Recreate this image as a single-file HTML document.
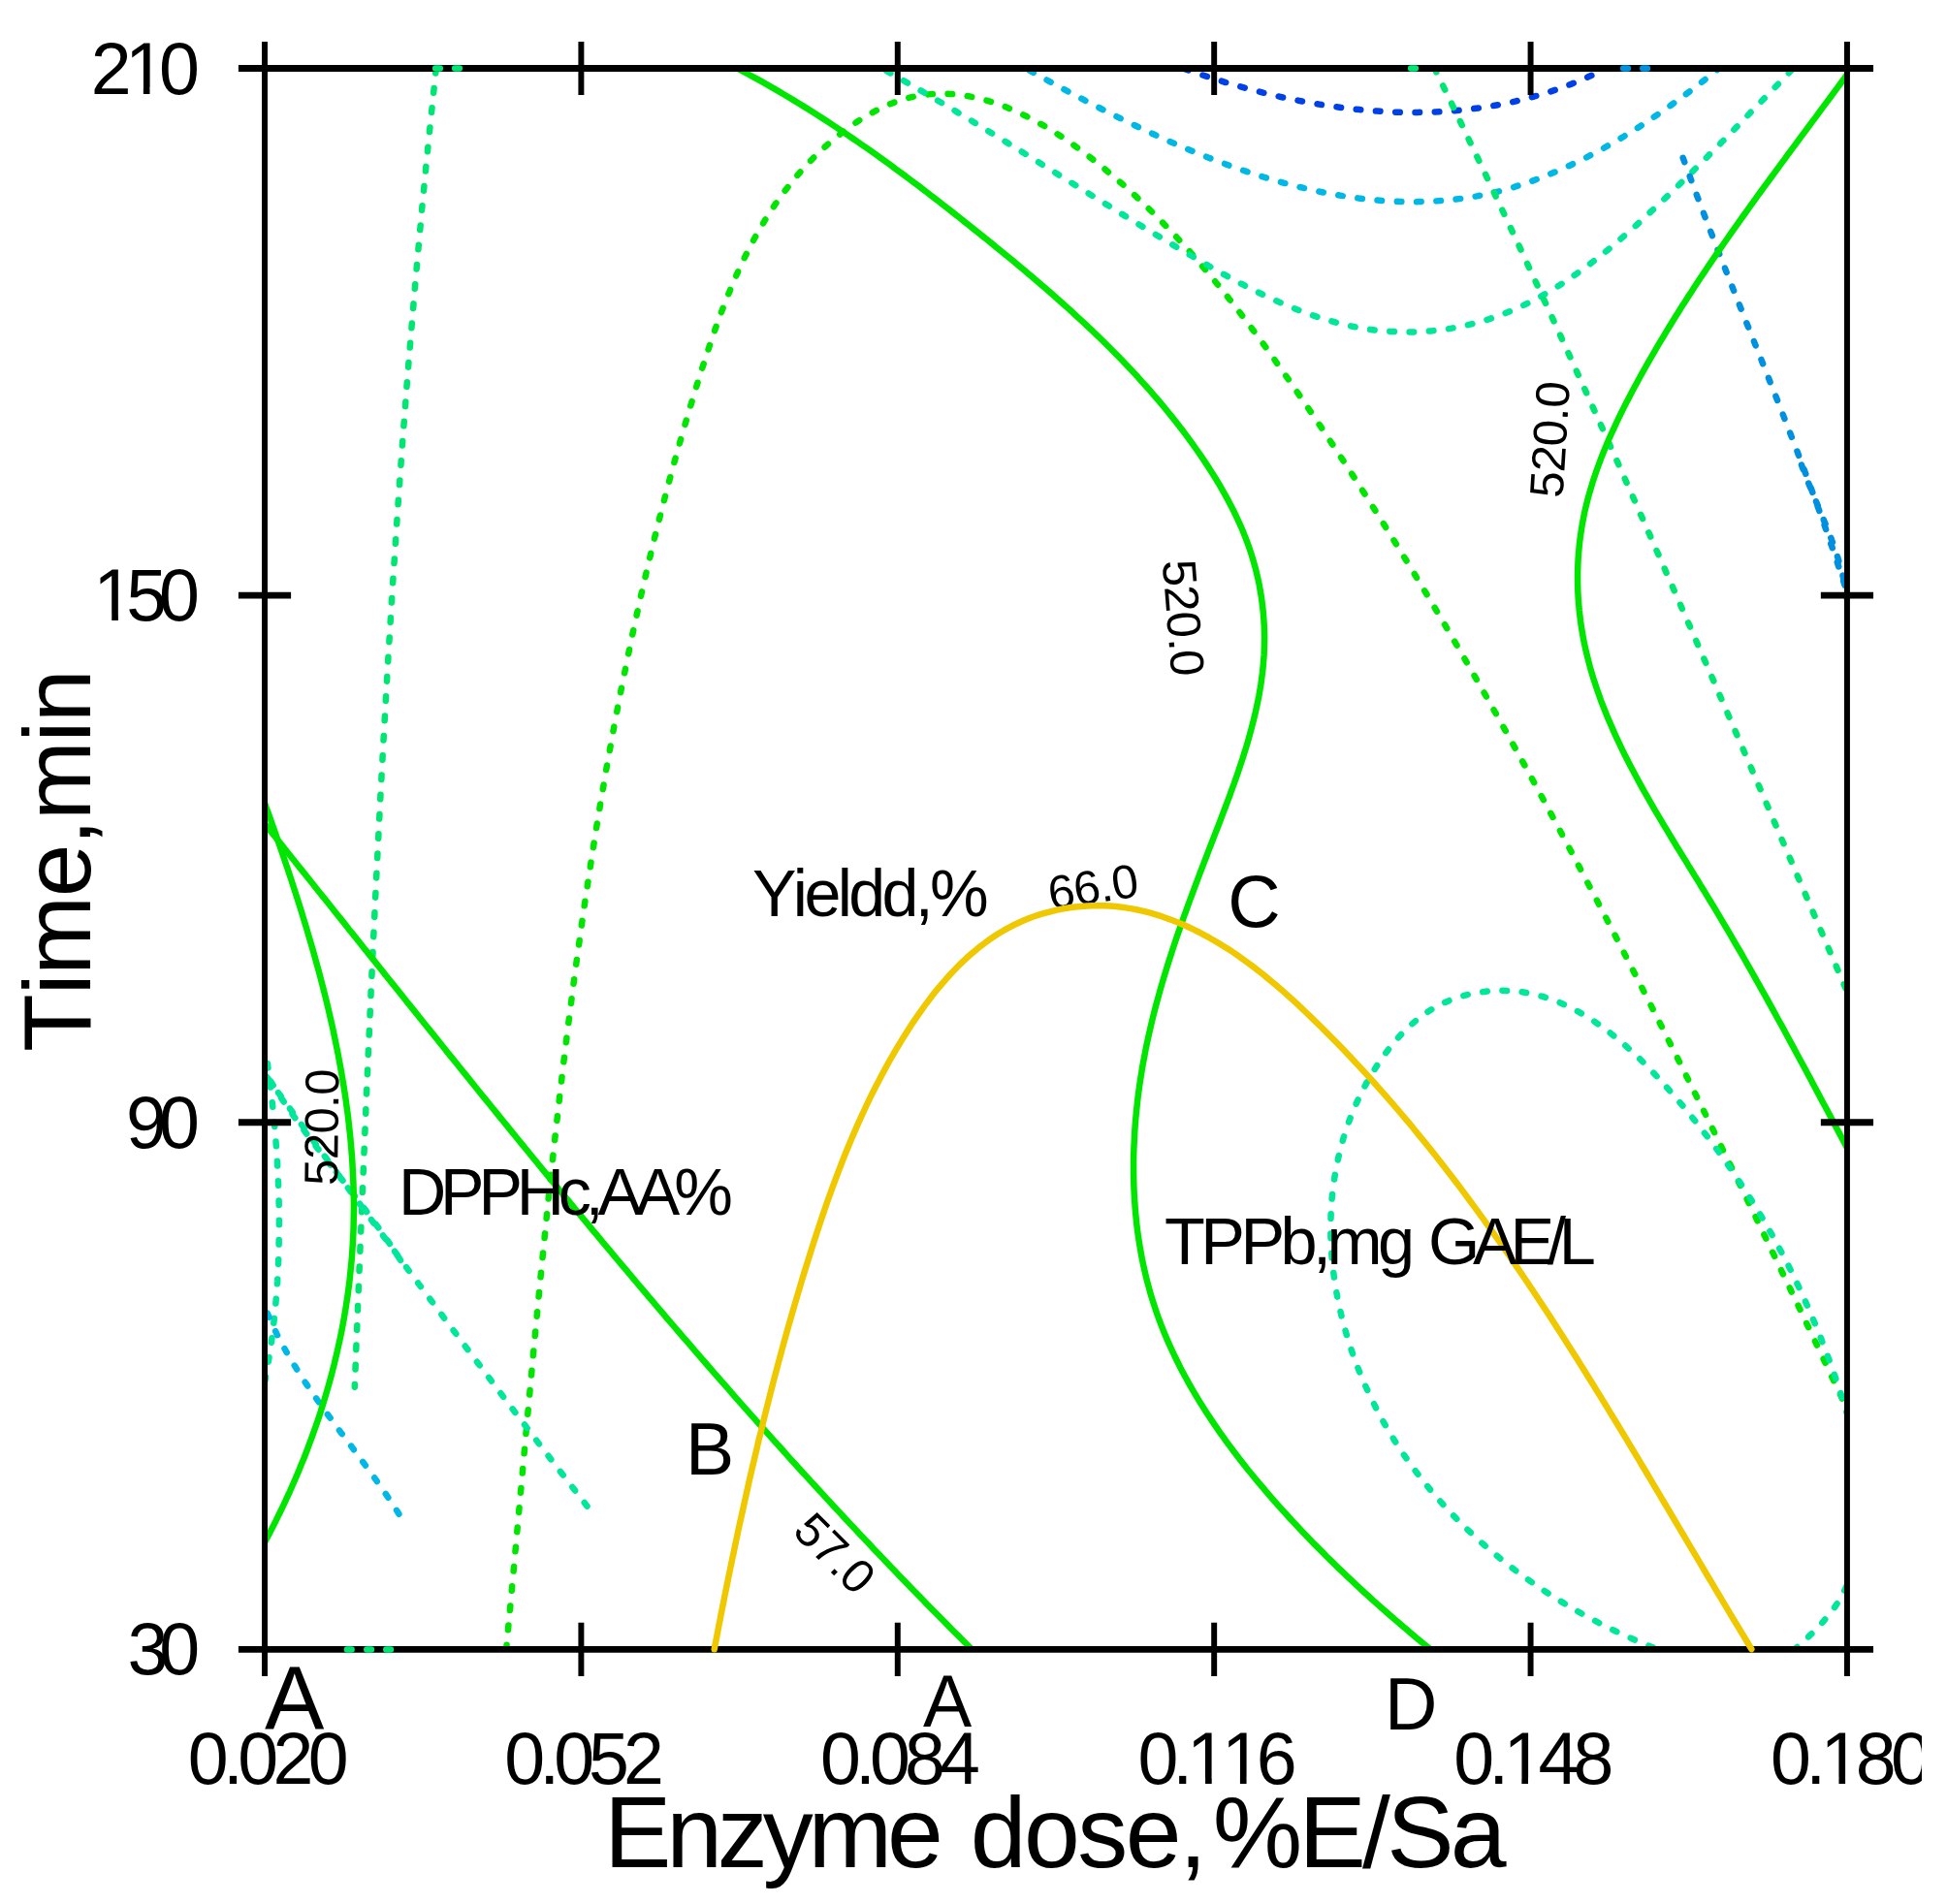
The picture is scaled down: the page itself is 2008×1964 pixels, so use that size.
<!DOCTYPE html>
<html><head><meta charset="utf-8"><title>Contour plot</title>
<style>
html,body{margin:0;padding:0;background:#fff;}
svg{display:block;}
text{font-family:"Liberation Sans",Arial,Helvetica,sans-serif;fill:#000;font-kerning:none;}
.c{fill:none;stroke-width:6.5;stroke-linejoin:round;}
.d{fill:none;stroke-width:6.5;stroke-linejoin:round;stroke-linecap:round;stroke-dasharray:4.6 15.7;}
.ax{stroke:#000;stroke-width:6.6;stroke-linecap:round;fill:none;}
</style></head><body>
<svg width="2008" height="1964" viewBox="0 0 2008 1964">
<rect x="0" y="0" width="2008" height="1964" fill="#fff"/>
<defs>
<clipPath id="plot"><rect x="273.0" y="70.44" width="1631.96" height="1630.96"/></clipPath>
<clipPath id="plot2"><rect x="273.0" y="70.44" width="1631.96" height="1634.56"/></clipPath>
<clipPath id="page"><rect x="0" y="0" width="1982" height="1964"/></clipPath>
</defs>

<g clip-path="url(#plot)">
<path class="d" stroke="#00E672"  d="M449.8,70.9 L449.1,76.9 L448.5,82.8 L447.9,88.8 L447.2,94.8 L446.6,100.8 L446.0,106.7 L445.4,112.7 L444.7,118.7 L444.1,124.6 L443.5,130.6 L442.9,136.6 L442.3,142.6 L441.7,148.5 L441.1,154.5 L440.5,160.5 L439.9,166.4 L439.3,172.4 L438.8,178.4 L438.2,184.4 L437.6,190.3 L437.0,196.3 L436.5,202.3 L435.9,208.3 L435.3,214.2 L434.8,220.2 L434.2,226.2 L433.7,232.2 L433.1,238.2 L432.6,244.1 L432.0,250.1 L431.5,256.1 L431.0,262.1 L430.4,268.0 L429.9,274.0 L429.4,280.0 L428.8,286.0 L428.3,292.0 L427.8,297.9 L427.3,303.9 L426.8,309.9 L426.3,315.9 L425.8,321.9 L425.3,327.9 L424.8,333.8 L424.3,339.8 L423.8,345.8 L423.3,351.8 L422.8,357.8 L422.3,363.7 L421.8,369.7 L421.3,375.7 L420.9,381.7 L420.4,387.7 L419.9,393.7 L419.4,399.7 L419.0,405.6 L418.5,411.6 L418.1,417.6 L417.6,423.6 L417.1,429.6 L416.7,435.6 L416.2,441.5 L415.8,447.5 L415.3,453.5 L414.9,459.5 L414.5,465.5 L414.0,471.5 L413.6,477.5 L413.2,483.5 L412.7,489.4 L412.3,495.4 L411.9,501.4 L411.5,507.4 L411.0,513.4 L410.6,519.4 L410.2,525.4 L409.8,531.4 L409.4,537.3 L409.0,543.3 L408.6,549.3 L408.2,555.3 L407.8,561.3 L407.4,567.3 L407.0,573.3 L406.6,579.3 L406.2,585.3 L405.8,591.3 L405.4,597.2 L405.0,603.2 L404.7,609.2 L404.3,615.2 L403.9,621.2 L403.5,627.2 L403.1,633.2 L402.8,639.2 L402.4,645.2 L402.0,651.2 L401.7,657.2 L401.3,663.1 L401.0,669.1 L400.6,675.1 L400.2,681.1 L399.9,687.1 L399.5,693.1 L399.2,699.1 L398.8,705.1 L398.5,711.1 L398.1,717.1 L397.8,723.1 L397.5,729.1 L397.1,735.1 L396.8,741.0 L396.4,747.0 L396.1,753.0 L395.8,759.0 L395.4,765.0 L395.1,771.0 L394.8,777.0 L394.5,783.0 L394.1,789.0 L393.8,795.0 L393.5,801.0 L393.2,807.0 L392.9,813.0 L392.5,819.0 L392.2,825.0 L391.9,831.0 L391.6,837.0 L391.3,842.9 L391.0,848.9 L390.7,854.9 L390.4,860.9 L390.1,866.9 L389.8,872.9 L389.5,878.9 L389.2,884.9 L388.9,890.9 L388.6,896.9 L388.3,902.9 L388.0,908.9 L387.7,914.9 L387.4,920.9 L387.1,926.9 L386.8,932.9 L386.5,938.9 L386.3,944.9 L386.0,950.9 L385.7,956.9 L385.4,962.9 L385.1,968.9 L384.8,974.8 L384.6,980.8 L384.3,986.8 L384.0,992.8 L383.7,998.8 L383.5,1004.8 L383.2,1010.8 L382.9,1016.8 L382.6,1022.8 L382.4,1028.8 L382.1,1034.8 L381.8,1040.8 L381.6,1046.8 L381.3,1052.8 L381.0,1058.8 L380.8,1064.8 L380.5,1070.8 L380.3,1076.8 L380.0,1082.8 L379.7,1088.8 L379.5,1094.8 L379.2,1100.8 L379.0,1106.8 L378.7,1112.8 L378.4,1118.8 L378.2,1124.8 L377.9,1130.8 L377.7,1136.8 L377.4,1142.8 L377.2,1148.8 L376.9,1154.8 L376.7,1160.8 L376.4,1166.7 L376.2,1172.7 L375.9,1178.7 L375.7,1184.7 L375.4,1190.7 L375.2,1196.7 L374.9,1202.7 L374.7,1208.7 L374.4,1214.7 L374.2,1220.7 L373.9,1226.7 L373.7,1232.7 L373.5,1238.7 L373.2,1244.7 L373.0,1250.7 L372.7,1256.7 L372.5,1262.7 L372.2,1268.7 L372.0,1274.7 L371.8,1280.7 L371.5,1286.7 L371.3,1292.7 L371.0,1298.7 L370.8,1304.7 L370.5,1310.7 L370.3,1316.7 L370.1,1322.7 L369.8,1328.7 L369.6,1334.7 L369.3,1340.7 L369.1,1346.7 L368.9,1352.7 L368.6,1358.7 L368.4,1364.7 L368.2,1370.7 L367.9,1376.7 L367.7,1382.7 L367.4,1388.7 L367.2,1394.7 L367.0,1400.7 L366.7,1406.7 L366.5,1412.7 L366.2,1418.7 L366.0,1424.7 L365.8,1430.7"/>
<path class="d" stroke="#00E600"  d="M522.1,1701.4 L522.7,1695.4 L523.2,1689.4 L523.8,1683.5 L524.3,1677.5 L524.9,1671.5 L525.5,1665.5 L526.0,1659.5 L526.6,1653.5 L527.1,1647.6 L527.7,1641.6 L528.2,1635.6 L528.8,1629.6 L529.3,1623.6 L529.9,1617.7 L530.4,1611.7 L531.0,1605.7 L531.5,1599.7 L532.1,1593.7 L532.6,1587.8 L533.1,1581.8 L533.7,1575.8 L534.2,1569.8 L534.8,1563.8 L535.3,1557.8 L535.9,1551.9 L536.4,1545.9 L536.9,1539.9 L537.5,1533.9 L538.0,1527.9 L538.6,1522.0 L539.1,1516.0 L539.6,1510.0 L540.2,1504.0 L540.7,1498.0 L541.3,1492.0 L541.8,1486.1 L542.3,1480.1 L542.9,1474.1 L543.4,1468.1 L544.0,1462.1 L544.5,1456.2 L545.1,1450.2 L545.6,1444.2 L546.2,1438.2 L546.7,1432.2 L547.3,1426.2 L547.8,1420.3 L548.4,1414.3 L548.9,1408.3 L549.5,1402.3 L550.0,1396.3 L550.6,1390.4 L551.2,1384.4 L551.7,1378.4 L552.3,1372.4 L552.8,1366.4 L553.4,1360.5 L554.0,1354.5 L554.6,1348.5 L555.1,1342.5 L555.7,1336.5 L556.3,1330.6 L556.9,1324.6 L557.4,1318.6 L558.0,1312.6 L558.6,1306.7 L559.2,1300.7 L559.8,1294.7 L560.4,1288.7 L561.0,1282.7 L561.6,1276.8 L562.2,1270.8 L562.8,1264.8 L563.4,1258.8 L564.0,1252.9 L564.6,1246.9 L565.2,1240.9 L565.8,1234.9 L566.5,1229.0 L567.1,1223.0 L567.7,1217.0 L568.4,1211.1 L569.0,1205.1 L569.6,1199.1 L570.3,1193.1 L570.9,1187.2 L571.6,1181.2 L572.2,1175.2 L572.9,1169.3 L573.6,1163.3 L574.2,1157.3 L574.9,1151.3 L575.6,1145.4 L576.3,1139.4 L576.9,1133.4 L577.6,1127.5 L578.3,1121.5 L579.0,1115.5 L579.7,1109.6 L580.4,1103.6 L581.1,1097.7 L581.8,1091.7 L582.6,1085.7 L583.3,1079.8 L584.0,1073.8 L584.8,1067.8 L585.5,1061.9 L586.2,1055.9 L587.0,1050.0 L587.8,1044.0 L588.5,1038.0 L589.3,1032.1 L590.1,1026.1 L590.8,1020.2 L591.6,1014.2 L592.4,1008.3 L593.2,1002.3 L594.0,996.4 L594.8,990.4 L595.6,984.5 L596.4,978.5 L597.3,972.6 L598.1,966.6 L598.9,960.7 L599.8,954.7 L600.6,948.8 L601.5,942.8 L602.3,936.9 L603.2,930.9 L604.1,925.0 L605.0,919.1 L605.9,913.1 L606.8,907.2 L607.7,901.2 L608.6,895.3 L609.5,889.4 L610.4,883.4 L611.3,877.5 L612.3,871.6 L613.2,865.6 L614.2,859.7 L615.1,853.8 L616.1,847.8 L617.1,841.9 L618.1,836.0 L619.0,830.1 L620.0,824.1 L621.0,818.2 L622.1,812.3 L623.1,806.4 L624.1,800.5 L625.1,794.5 L626.2,788.6 L627.2,782.7 L628.3,776.8 L629.4,770.9 L630.5,765.0 L631.5,759.1 L632.6,753.2 L633.7,747.3 L634.9,741.4 L636.0,735.5 L637.1,729.6 L638.2,723.7 L639.4,717.8 L640.5,711.9 L641.7,706.0 L642.9,700.1 L644.1,694.2 L645.3,688.3 L646.5,682.4 L647.7,676.6 L648.9,670.7 L650.1,664.8 L651.4,658.9 L652.6,653.0 L653.9,647.2 L655.1,641.3 L656.4,635.4 L657.7,629.6 L659.0,623.7 L660.3,617.8 L661.6,612.0 L663.0,606.1 L664.3,600.3 L665.7,594.4 L667.0,588.6 L668.4,582.7 L669.8,576.9 L671.2,571.0 L672.6,565.2 L674.0,559.4 L675.4,553.5 L676.9,547.7 L678.3,541.9 L679.8,536.0 L681.3,530.2 L682.8,524.4 L684.3,518.6 L685.8,512.8 L687.3,507.0 L688.9,501.2 L690.4,495.4 L692.0,489.6 L693.5,483.8 L695.1,478.0 L696.7,472.2 L698.3,466.4 L700.0,460.6 L701.6,454.8 L703.3,449.1 L704.9,443.3 L706.6,437.5 L708.3,431.8 L710.0,426.0 L711.7,420.2 L713.5,414.5 L715.2,408.7 L717.0,403.0 L718.7,397.3 L720.5,391.5 L722.3,385.8 L724.1,380.1 L726.0,374.4 L727.8,368.6 L729.7,362.9 L731.6,357.2 L733.5,351.5 L735.4,345.9 L737.4,340.2 L739.4,334.5 L741.5,328.9 L743.5,323.2 L745.7,317.6 L747.8,312.0 L750.0,306.4 L752.3,300.9 L754.6,295.3 L756.9,289.8 L759.3,284.3 L761.8,278.8 L764.3,273.3 L766.8,267.9 L769.5,262.5 L772.2,257.1 L774.9,251.8 L777.8,246.5 L780.7,241.3 L783.7,236.0 L786.7,230.9 L789.8,225.7 L793.0,220.6 L796.3,215.6 L799.6,210.6 L803.1,205.7 L806.6,200.8 L810.2,196.0 L813.9,191.3 L817.6,186.6 L821.5,182.0 L825.4,177.4 L829.4,172.9 L833.5,168.5 L837.6,164.2 L841.9,159.9 L846.2,155.8 L850.6,151.7 L855.1,147.7 L859.6,143.8 L864.3,140.0 L869.0,136.3 L873.8,132.6 L878.7,129.1 L883.7,125.8 L888.7,122.5 L893.8,119.4 L899.1,116.4 L904.4,113.6 L909.8,111.0 L915.2,108.5 L920.8,106.2 L926.4,104.2 L932.2,102.3 L937.9,100.7 L943.8,99.4 L949.7,98.3 L955.7,97.5 L961.6,97.0 L967.6,96.7 L973.6,96.7 L979.7,96.9 L985.6,97.4 L991.6,98.1 L997.5,99.0 L1003.4,100.1 L1009.3,101.4 L1015.1,102.9 L1020.9,104.6 L1026.6,106.4 L1032.3,108.4 L1037.9,110.6 L1043.4,112.9 L1048.9,115.3 L1054.4,117.9 L1059.7,120.5 L1065.1,123.3 L1070.3,126.2 L1075.6,129.1 L1080.7,132.2 L1085.9,135.3 L1090.9,138.5 L1096.0,141.8 L1100.9,145.2 L1105.9,148.6 L1110.7,152.1 L1115.6,155.7 L1120.4,159.3 L1125.1,162.9 L1129.9,166.7 L1134.6,170.4 L1139.2,174.2 L1143.8,178.1 L1148.4,182.0 L1152.9,185.9 L1157.5,189.8 L1161.9,193.8 L1166.4,197.9 L1170.8,201.9 L1175.2,206.1 L1179.5,210.2 L1183.9,214.4 L1188.2,218.6 L1192.4,222.8 L1196.6,227.1 L1200.8,231.4 L1205.0,235.7 L1209.1,240.0 L1213.2,244.4 L1217.3,248.8 L1221.4,253.3 L1225.4,257.7 L1229.4,262.2 L1233.3,266.7 L1237.3,271.3 L1241.2,275.9 L1245.0,280.4 L1248.9,285.0 L1252.7,289.7 L1256.5,294.3 L1260.3,299.0 L1264.1,303.7 L1267.8,308.4 L1271.5,313.1 L1275.2,317.9 L1278.8,322.6 L1282.5,327.4 L1286.1,332.2 L1289.7,337.0 L1293.3,341.8 L1296.9,346.6 L1300.4,351.5 L1304.0,356.3 L1307.5,361.2 L1311.0,366.1 L1314.5,371.0 L1317.9,375.9 L1321.4,380.8 L1324.8,385.7 L1328.3,390.6 L1331.7,395.6 L1335.1,400.5 L1338.5,405.4 L1341.9,410.4 L1345.3,415.4 L1348.7,420.3 L1352.1,425.3 L1355.4,430.3 L1358.8,435.2 L1362.2,440.2 L1365.5,445.2 L1368.8,450.2 L1372.1,455.2 L1375.5,460.2 L1378.8,465.2 L1382.1,470.3 L1385.4,475.3 L1388.6,480.3 L1391.9,485.4 L1395.2,490.4 L1398.4,495.4 L1401.7,500.5 L1404.9,505.6 L1408.2,510.6 L1411.4,515.7 L1414.6,520.8 L1417.8,525.8 L1421.0,530.9 L1424.2,536.0 L1427.4,541.1 L1430.6,546.2 L1433.8,551.3 L1436.9,556.4 L1440.1,561.5 L1443.2,566.6 L1446.4,571.7 L1449.5,576.8 L1452.7,582.0 L1455.8,587.1 L1458.9,592.2 L1462.0,597.4 L1465.1,602.5 L1468.2,607.7 L1471.3,612.8 L1474.4,618.0 L1477.5,623.1 L1480.5,628.3 L1483.6,633.4 L1486.7,638.6 L1489.7,643.8 L1492.7,649.0 L1495.8,654.2 L1498.8,659.3 L1501.8,664.5 L1504.9,669.7 L1507.9,674.9 L1510.9,680.1 L1513.9,685.3 L1516.9,690.5 L1519.9,695.7 L1522.8,700.9 L1525.8,706.2 L1528.8,711.4 L1531.8,716.6 L1534.7,721.8 L1537.7,727.1 L1540.6,732.3 L1543.6,737.5 L1546.5,742.8 L1549.4,748.0 L1552.4,753.3 L1555.3,758.5 L1558.2,763.7 L1561.1,769.0 L1564.0,774.3 L1566.9,779.5 L1569.8,784.8 L1572.7,790.0 L1575.6,795.3 L1578.5,800.6 L1581.4,805.8 L1584.3,811.1 L1587.1,816.4 L1590.0,821.7 L1592.8,827.0 L1595.7,832.2 L1598.5,837.5 L1601.4,842.8 L1604.2,848.1 L1607.1,853.4 L1609.9,858.7 L1612.7,864.0 L1615.6,869.3 L1618.4,874.6 L1621.2,879.9 L1624.0,885.2 L1626.8,890.5 L1629.6,895.8 L1632.4,901.1 L1635.2,906.5 L1638.0,911.8 L1640.8,917.1 L1643.6,922.4 L1646.4,927.7 L1649.2,933.1 L1651.9,938.4 L1654.7,943.7 L1657.5,949.0 L1660.3,954.4 L1663.0,959.7 L1665.8,965.0 L1668.5,970.4 L1671.3,975.7 L1674.0,981.1 L1676.8,986.4 L1679.5,991.7 L1682.3,997.1 L1685.0,1002.4 L1687.7,1007.8 L1690.5,1013.1 L1693.2,1018.5 L1695.9,1023.8 L1698.7,1029.2 L1701.4,1034.5 L1704.1,1039.9 L1706.8,1045.3 L1709.5,1050.6 L1712.2,1056.0 L1714.9,1061.3 L1717.6,1066.7 L1720.3,1072.1 L1723.0,1077.4 L1725.7,1082.8 L1728.4,1088.2 L1731.1,1093.5 L1733.8,1098.9 L1736.5,1104.3 L1739.1,1109.7 L1741.8,1115.0 L1744.5,1120.4 L1747.2,1125.8 L1749.8,1131.2 L1752.5,1136.6 L1755.2,1141.9 L1757.8,1147.3 L1760.5,1152.7 L1763.2,1158.1 L1765.8,1163.5 L1768.5,1168.9 L1771.1,1174.3 L1773.8,1179.7 L1776.4,1185.1 L1779.0,1190.4 L1781.7,1195.8 L1784.3,1201.2 L1787.0,1206.6 L1789.6,1212.0 L1792.2,1217.4 L1794.9,1222.8 L1797.5,1228.2 L1800.1,1233.6 L1802.7,1239.0 L1805.3,1244.4 L1808.0,1249.8 L1810.6,1255.3 L1813.2,1260.7 L1815.8,1266.1 L1818.4,1271.5 L1821.0,1276.9 L1823.6,1282.3 L1826.2,1287.7 L1828.8,1293.1 L1831.4,1298.5 L1834.0,1304.0 L1836.6,1309.4 L1839.2,1314.8 L1841.8,1320.2 L1844.4,1325.6 L1847.0,1331.0 L1849.6,1336.5 L1852.2,1341.9 L1854.8,1347.3 L1857.4,1352.7 L1859.9,1358.2 L1862.5,1363.6 L1865.1,1369.0 L1867.7,1374.4 L1870.2,1379.9 L1872.8,1385.3 L1875.4,1390.7 L1878.0,1396.1 L1880.5,1401.6 L1883.1,1407.0 L1885.7,1412.4 L1888.2,1417.9 L1890.8,1423.3 L1893.4,1428.7 L1895.9,1434.2 L1898.5,1439.6 L1901.0,1445.0 L1903.6,1450.5"/>
<path class="d" stroke="#00E69A"  d="M914.4,73.2 L919.6,76.1 L924.9,79.1 L930.1,82.1 L935.3,85.1 L940.5,88.1 L945.7,91.1 L950.9,94.1 L956.1,97.2 L961.2,100.2 L966.4,103.3 L971.6,106.3 L976.7,109.4 L981.9,112.5 L987.1,115.6 L992.2,118.7 L997.3,121.8 L1002.5,124.9 L1007.6,128.1 L1012.7,131.2 L1017.9,134.3 L1023.0,137.5 L1028.1,140.6 L1033.2,143.8 L1038.3,146.9 L1043.4,150.1 L1048.5,153.3 L1053.7,156.5 L1058.8,159.6 L1063.9,162.8 L1069.0,166.0 L1074.1,169.2 L1079.2,172.3 L1084.3,175.5 L1089.3,178.7 L1094.4,181.9 L1099.5,185.1 L1104.6,188.3 L1109.7,191.4 L1114.8,194.6 L1119.9,197.8 L1125.0,201.0 L1130.2,204.1 L1135.3,207.3 L1140.4,210.5 L1145.5,213.6 L1150.6,216.8 L1155.7,220.0 L1160.8,223.1 L1166.0,226.2 L1171.1,229.4 L1176.2,232.5 L1181.4,235.6 L1186.5,238.7 L1191.6,241.8 L1196.8,244.9 L1201.9,248.0 L1207.1,251.1 L1212.3,254.2 L1217.4,257.2 L1222.6,260.3 L1227.8,263.3 L1233.0,266.4 L1238.2,269.4 L1243.4,272.4 L1248.6,275.4 L1253.8,278.3 L1259.1,281.3 L1264.4,284.2 L1269.6,287.0 L1274.9,289.9 L1280.2,292.7 L1285.6,295.5 L1290.9,298.2 L1296.3,300.9 L1301.7,303.5 L1307.1,306.1 L1312.6,308.6 L1318.1,311.1 L1323.6,313.5 L1329.1,315.8 L1334.7,318.1 L1340.3,320.3 L1345.9,322.4 L1351.5,324.5 L1357.2,326.4 L1362.9,328.3 L1368.7,330.0 L1374.5,331.7 L1380.3,333.3 L1386.1,334.7 L1392.0,336.1 L1397.8,337.3 L1403.7,338.4 L1409.7,339.4 L1415.6,340.2 L1421.6,340.9 L1427.6,341.5 L1433.6,341.9 L1439.6,342.2 L1445.6,342.4 L1451.6,342.5 L1457.6,342.4 L1463.6,342.2 L1469.6,341.8 L1475.6,341.4 L1481.6,340.8 L1487.5,340.0 L1493.5,339.2 L1499.4,338.2 L1505.3,337.1 L1511.2,335.8 L1517.1,334.4 L1522.9,332.9 L1528.7,331.3 L1534.4,329.6 L1540.1,327.7 L1545.8,325.7 L1551.4,323.6 L1557.0,321.3 L1562.5,319.0 L1568.0,316.5 L1573.4,313.9 L1578.8,311.2 L1584.1,308.4 L1589.4,305.6 L1594.6,302.6 L1599.8,299.5 L1604.9,296.4 L1610.0,293.2 L1615.0,289.9 L1620.0,286.5 L1625.0,283.1 L1629.8,279.6 L1634.7,276.1 L1639.5,272.5 L1644.3,268.8 L1649.0,265.1 L1653.7,261.4 L1658.4,257.6 L1663.0,253.7 L1667.6,249.8 L1672.1,245.9 L1676.7,242.0 L1681.2,238.0 L1685.7,234.0 L1690.1,230.0 L1694.5,225.9 L1698.9,221.8 L1703.3,217.7 L1707.7,213.6 L1712.1,209.5 L1716.4,205.3 L1720.8,201.2 L1725.1,197.0 L1729.4,192.8 L1733.7,188.6 L1738.0,184.4 L1742.3,180.2 L1746.5,175.9 L1750.8,171.7 L1755.0,167.4 L1759.3,163.2 L1763.5,158.9 L1767.7,154.6 L1772.0,150.4 L1776.2,146.1 L1780.4,141.8 L1784.6,137.5 L1788.8,133.2 L1793.0,128.9 L1797.2,124.6 L1801.4,120.3 L1805.5,115.9 L1809.7,111.6 L1813.9,107.3 L1818.1,103.0 L1822.2,98.7 L1826.4,94.3 L1830.6,90.0 L1834.8,85.7 L1839.0,81.4 L1843.1,77.1 L1847.3,72.7"/>
<path class="d" stroke="#00B8E6"  d="M1061.8,72.7 L1067.0,75.6 L1072.3,78.5 L1077.6,81.4 L1082.9,84.3 L1088.2,87.2 L1093.5,90.1 L1098.8,92.9 L1104.2,95.7 L1109.5,98.6 L1114.8,101.4 L1120.2,104.2 L1125.5,107.0 L1130.9,109.7 L1136.3,112.5 L1141.6,115.2 L1147.0,117.9 L1152.4,120.6 L1157.8,123.3 L1163.2,125.9 L1168.7,128.5 L1174.1,131.1 L1179.6,133.7 L1185.0,136.3 L1190.5,138.8 L1196.0,141.3 L1201.5,143.8 L1207.0,146.2 L1212.5,148.6 L1218.1,151.0 L1223.6,153.4 L1229.2,155.7 L1234.8,158.0 L1240.4,160.2 L1246.0,162.5 L1251.6,164.6 L1257.2,166.8 L1262.9,168.9 L1268.5,171.0 L1274.2,173.0 L1279.9,175.0 L1285.6,176.9 L1291.3,178.8 L1297.1,180.7 L1302.8,182.5 L1308.6,184.3 L1314.4,186.0 L1320.2,187.6 L1326.0,189.2 L1331.8,190.8 L1337.7,192.3 L1343.5,193.7 L1349.4,195.1 L1355.3,196.5 L1361.2,197.7 L1367.1,198.9 L1373.0,200.1 L1378.9,201.1 L1384.9,202.1 L1390.8,203.1 L1396.8,203.9 L1402.8,204.7 L1408.8,205.4 L1414.8,206.1 L1420.8,206.6 L1426.8,207.1 L1432.8,207.5 L1438.8,207.8 L1444.9,208.0 L1450.9,208.1 L1456.9,208.2 L1462.9,208.1 L1469.0,208.0 L1475.0,207.8 L1481.0,207.4 L1487.0,207.0 L1493.0,206.5 L1499.0,205.9 L1505.0,205.1 L1511.0,204.3 L1517.0,203.4 L1522.9,202.4 L1528.8,201.2 L1534.7,200.0 L1540.6,198.6 L1546.5,197.2 L1552.3,195.6 L1558.1,194.0 L1563.9,192.2 L1569.6,190.4 L1575.3,188.5 L1581.0,186.4 L1586.7,184.3 L1592.3,182.2 L1597.9,179.9 L1603.4,177.6 L1609.0,175.2 L1614.5,172.8 L1620.0,170.2 L1625.4,167.6 L1630.8,165.0 L1636.2,162.3 L1641.6,159.5 L1646.9,156.6 L1652.2,153.8 L1657.4,150.8 L1662.7,147.8 L1667.9,144.8 L1673.1,141.7 L1678.2,138.6 L1683.3,135.4 L1688.4,132.2 L1693.5,128.9 L1698.5,125.6 L1703.6,122.2 L1708.5,118.8 L1713.5,115.4 L1718.5,112.0 L1723.4,108.5 L1728.3,104.9 L1733.1,101.4 L1738.0,97.8 L1742.8,94.1 L1747.6,90.5 L1752.3,86.8 L1757.1,83.1 L1761.8,79.3 L1766.5,75.6 L1771.2,71.8"/>
<path class="d" stroke="#0040E8"  d="M1221.3,70.9 L1227.0,72.9 L1232.6,74.9 L1238.3,76.8 L1244.0,78.7 L1249.8,80.5 L1255.5,82.3 L1261.2,84.1 L1267.0,85.9 L1272.7,87.5 L1278.5,89.2 L1284.3,90.8 L1290.1,92.4 L1295.9,93.9 L1301.7,95.4 L1307.6,96.8 L1313.4,98.2 L1319.3,99.6 L1325.1,100.9 L1331.0,102.1 L1336.9,103.3 L1342.8,104.5 L1348.7,105.6 L1354.6,106.6 L1360.5,107.6 L1366.5,108.6 L1372.4,109.5 L1378.4,110.3 L1384.3,111.1 L1390.3,111.9 L1396.3,112.5 L1402.2,113.1 L1408.2,113.7 L1414.2,114.2 L1420.2,114.6 L1426.2,115.0 L1432.2,115.3 L1438.2,115.6 L1444.2,115.8 L1450.2,115.9 L1456.2,115.9 L1462.2,115.9 L1468.2,115.8 L1474.2,115.7 L1480.2,115.5 L1486.2,115.2 L1492.2,114.8 L1498.2,114.4 L1504.2,113.8 L1510.2,113.2 L1516.2,112.6 L1522.1,111.8 L1528.1,111.0 L1534.0,110.1 L1539.9,109.1 L1545.9,108.0 L1551.7,106.9 L1557.6,105.7 L1563.5,104.3 L1569.3,102.9 L1575.2,101.5 L1581.0,99.9 L1586.7,98.3 L1592.5,96.5 L1598.2,94.7 L1603.9,92.8 L1609.6,90.8 L1615.2,88.7 L1620.8,86.6 L1626.4,84.3 L1631.9,82.0 L1637.4,79.6 L1642.9,77.1 L1648.3,74.5 L1653.7,71.8"/>
<path class="d" stroke="#00E672"  d="M1479.3,70.2 L1481.9,75.6 L1484.6,81.0 L1487.2,86.4 L1489.8,91.8 L1492.5,97.3 L1495.1,102.7 L1497.7,108.1 L1500.3,113.5 L1502.9,118.9 L1505.5,124.4 L1508.1,129.8 L1510.7,135.2 L1513.3,140.6 L1515.9,146.1 L1518.5,151.5 L1521.1,156.9 L1523.7,162.4 L1526.3,167.8 L1528.9,173.3 L1531.5,178.7 L1534.0,184.1 L1536.6,189.6 L1539.2,195.0 L1541.7,200.5 L1544.3,205.9 L1546.9,211.4 L1549.4,216.8 L1552.0,222.3 L1554.5,227.7 L1557.1,233.2 L1559.6,238.6 L1562.2,244.1 L1564.7,249.5 L1567.3,255.0 L1569.8,260.4 L1572.3,265.9 L1574.9,271.4 L1577.4,276.8 L1579.9,282.3 L1582.5,287.7 L1585.0,293.2 L1587.5,298.7 L1590.0,304.1 L1592.5,309.6 L1595.1,315.1 L1597.6,320.6 L1600.1,326.0 L1602.6,331.5 L1605.1,337.0 L1607.6,342.5 L1610.1,347.9 L1612.6,353.4 L1615.1,358.9 L1617.6,364.4 L1620.1,369.8 L1622.6,375.3 L1625.0,380.8 L1627.5,386.3 L1630.0,391.8 L1632.5,397.3 L1635.0,402.7 L1637.4,408.2 L1639.9,413.7 L1642.4,419.2 L1644.9,424.7 L1647.3,430.2 L1649.8,435.7 L1652.3,441.2 L1654.7,446.7 L1657.2,452.2 L1659.6,457.7 L1662.1,463.1 L1664.6,468.6 L1667.0,474.1 L1669.5,479.6 L1671.9,485.1 L1674.4,490.6 L1676.8,496.1 L1679.2,501.6 L1681.7,507.1 L1684.1,512.6 L1686.6,518.1 L1689.0,523.7 L1691.4,529.2 L1693.9,534.7 L1696.3,540.2 L1698.7,545.7 L1701.2,551.2 L1703.6,556.7 L1706.0,562.2 L1708.4,567.7 L1710.9,573.2 L1713.3,578.7 L1715.7,584.2 L1718.1,589.8 L1720.6,595.3 L1723.0,600.8 L1725.4,606.3 L1727.8,611.8 L1730.2,617.3 L1732.6,622.8 L1735.0,628.4 L1737.4,633.9 L1739.8,639.4 L1742.3,644.9 L1744.7,650.4 L1747.1,655.9 L1749.5,661.5 L1751.9,667.0 L1754.3,672.5 L1756.7,678.0 L1759.1,683.5 L1761.5,689.1 L1763.9,694.6 L1766.3,700.1 L1768.7,705.6 L1771.0,711.2 L1773.4,716.7 L1775.8,722.2 L1778.2,727.7 L1780.6,733.3 L1783.0,738.8 L1785.4,744.3 L1787.8,749.8 L1790.2,755.4 L1792.5,760.9 L1794.9,766.4 L1797.3,771.9 L1799.7,777.5 L1802.1,783.0 L1804.5,788.5 L1806.8,794.1 L1809.2,799.6 L1811.6,805.1 L1814.0,810.6 L1816.4,816.2 L1818.7,821.7 L1821.1,827.2 L1823.5,832.8 L1825.9,838.3 L1828.2,843.8 L1830.6,849.4 L1833.0,854.9 L1835.4,860.4 L1837.7,866.0 L1840.1,871.5 L1842.5,877.0 L1844.9,882.6 L1847.2,888.1 L1849.6,893.6 L1852.0,899.2 L1854.3,904.7 L1856.7,910.2 L1859.1,915.8 L1861.5,921.3 L1863.8,926.8 L1866.2,932.4 L1868.6,937.9 L1870.9,943.4 L1873.3,949.0 L1875.7,954.5 L1878.0,960.0 L1880.4,965.6 L1882.8,971.1 L1885.1,976.6 L1887.5,982.2 L1889.9,987.7 L1892.3,993.2 L1894.6,998.8 L1897.0,1004.3 L1899.4,1009.8 L1901.7,1015.4 L1904.1,1020.9"/>
<path class="d" stroke="#0090E0"  d="M1735.7,162.8 L1737.8,168.5 L1739.9,174.2 L1742.0,179.9 L1744.1,185.6 L1746.2,191.3 L1748.3,197.0 L1750.4,202.6 L1752.6,208.3 L1754.7,214.0 L1756.9,219.7 L1759.0,225.3 L1761.2,231.0 L1763.4,236.7 L1765.6,242.3 L1767.7,248.0 L1769.9,253.6 L1772.1,259.3 L1774.4,264.9 L1776.6,270.6 L1778.8,276.2 L1781.0,281.9 L1783.2,287.5 L1785.5,293.1 L1787.7,298.8 L1789.9,304.4 L1792.2,310.0 L1794.4,315.7 L1796.7,321.3 L1798.9,326.9 L1801.1,332.6 L1803.4,338.2 L1805.6,343.8 L1807.9,349.5 L1810.1,355.1 L1812.4,360.7 L1814.6,366.4 L1816.9,372.0 L1819.1,377.7 L1821.3,383.3 L1823.6,388.9 L1825.8,394.6 L1828.0,400.2 L1830.3,405.8 L1832.5,411.5 L1834.7,417.1 L1836.9,422.8 L1839.1,428.4 L1841.3,434.1 L1843.5,439.7 L1845.7,445.4 L1847.9,451.0 L1850.1,456.7 L1852.3,462.4 L1854.4,468.0 L1856.6,473.7 L1858.7,479.4 L1860.9,485.0 L1863.0,490.7 L1865.1,496.4 L1867.2,502.1 L1869.3,507.8 L1871.4,513.5 L1873.5,519.2 L1875.6,524.9 L1877.6,530.6 L1879.7,536.3 L1881.7,542.0 L1883.7,547.7 L1885.7,553.4 L1887.7,559.2 L1889.7,564.9 L1891.6,570.6 L1893.6,576.4 L1895.5,582.1 L1897.4,587.9 L1899.3,593.7 L1901.2,599.4 L1903.1,605.2 L1905.0,611.0 L1906.8,616.7 L1908.6,622.5"/>
<path class="d" stroke="#0090E0" stroke-dashoffset="10" d="M1854.6,469.9 L1856.5,475.5 L1858.5,481.2 L1860.6,486.8 L1862.8,492.4 L1865.0,498.0 L1867.3,503.6 L1869.6,509.1 L1871.9,514.7 L1874.2,520.2 L1876.5,525.8 L1878.8,531.3 L1881.1,536.9 L1883.4,542.4 L1885.6,548.0 L1887.8,553.6 L1889.9,559.3 L1891.9,564.9 L1893.8,570.6 L1895.7,576.3 L1897.4,582.1 L1899.0,587.9 L1900.5,593.7 L1901.9,599.5 L1903.1,605.4 L1904.1,611.4 L1904.9,617.3 L1905.5,623.3"/>
<path class="d" stroke="#00E69A"  d="M275.8,1096.9 L276.6,1102.9 L277.4,1108.9 L278.2,1115.0 L278.9,1121.1 L279.6,1127.1 L280.3,1133.2 L281.0,1139.2 L281.6,1145.3 L282.2,1151.4 L282.8,1157.5 L283.4,1163.5 L283.9,1169.6 L284.4,1175.7 L284.8,1181.8 L285.3,1187.9 L285.7,1194.0 L286.0,1200.1 L286.4,1206.1 L286.7,1212.2 L286.9,1218.3 L287.2,1224.4 L287.4,1230.5 L287.6,1236.6 L287.7,1242.7 L287.8,1248.8 L287.9,1254.9 L287.9,1261.0 L287.9,1267.1 L287.8,1273.2 L287.7,1279.3 L287.6,1285.5 L287.5,1291.6 L287.3,1297.7 L287.0,1303.7 L286.7,1309.8 L286.4,1315.9 L286.1,1322.0 L285.6,1328.1 L285.2,1334.2 L284.7,1340.3 L284.2,1346.4 L283.6,1352.4 L283.0,1358.5 L282.3,1364.6 L281.6,1370.6 L280.9,1376.7 L280.1,1382.7 L279.2,1388.8 L278.3,1394.8 L277.4,1400.9 L276.4,1406.9 L275.4,1412.9 L274.3,1418.9 L273.2,1424.9"/>
<path class="d" stroke="#00E69A"  d="M275.0,1110.7 L278.6,1115.6 L282.1,1120.5 L285.7,1125.3 L289.3,1130.2 L292.8,1135.1 L296.4,1140.0 L300.0,1144.9 L303.5,1149.8 L307.1,1154.7 L310.6,1159.5 L314.2,1164.4 L317.8,1169.3 L321.3,1174.2 L324.9,1179.1 L328.5,1183.9 L332.1,1188.8 L335.6,1193.7 L339.2,1198.6 L342.8,1203.5 L346.3,1208.3 L349.9,1213.2 L353.5,1218.1 L357.1,1223.0 L360.6,1227.8 L364.2,1232.7 L367.8,1237.6 L371.4,1242.4 L375.0,1247.3 L378.5,1252.2 L382.1,1257.1 L385.7,1261.9 L389.3,1266.8 L392.9,1271.7 L396.5,1276.5 L400.1,1281.4 L403.7,1286.2 L407.3,1291.1 L410.8,1296.0 L414.4,1300.8 L418.0,1305.7 L421.6,1310.6 L425.2,1315.4 L428.8,1320.3 L432.4,1325.1 L436.0,1330.0 L439.7,1334.8 L443.3,1339.7 L446.9,1344.5 L450.5,1349.4 L454.1,1354.2 L457.7,1359.1 L461.3,1363.9 L464.9,1368.8 L468.6,1373.6 L472.2,1378.4 L475.8,1383.3 L479.4,1388.1 L483.1,1393.0 L486.7,1397.8 L490.3,1402.6 L494.0,1407.5 L497.6,1412.3 L501.2,1417.1 L504.9,1421.9 L508.5,1426.8 L512.1,1431.6 L515.8,1436.4 L519.4,1441.2 L523.1,1446.1 L526.7,1450.9 L530.4,1455.7 L534.0,1460.5 L537.7,1465.3 L541.4,1470.1 L545.0,1474.9 L548.7,1479.8 L552.4,1484.6 L556.0,1489.4 L559.7,1494.2 L563.4,1499.0 L567.1,1503.8 L570.7,1508.6 L574.4,1513.4 L578.1,1518.2 L581.8,1522.9 L585.5,1527.7 L589.2,1532.5 L592.9,1537.3 L596.6,1542.1 L600.3,1546.9 L604.0,1551.7 L607.7,1556.4 L611.4,1561.2"/>
<path class="d" stroke="#00E69A" stroke-dasharray="4.6 15.7" stroke-dashoffset="-6.5" d="M275.9,1110.0 L279.1,1115.3 L282.3,1120.5 L285.6,1125.7 L288.9,1130.8 L292.3,1135.9 L295.7,1141.0 L299.2,1146.0 L302.7,1151.0 L306.3,1156.0 L309.9,1160.9 L313.5,1165.9 L317.1,1170.8 L320.8,1175.7 L324.5,1180.6 L328.2,1185.4 L332.0,1190.3 L335.7,1195.1 L339.5,1199.9 L343.3,1204.7 L347.0,1209.6 L350.8,1214.4 L354.6,1219.2 L358.3,1224.0 L362.1,1228.9 L365.8,1233.7 L369.6,1238.6 L373.3,1243.4 L377.0,1248.3 L380.6,1253.2 L384.3,1258.1 L387.9,1263.1 L391.5,1268.0 L395.0,1273.0 L398.5,1278.1 L402.0,1283.1 L405.4,1288.2 L408.7,1293.3 L412.1,1298.4 L415.3,1303.6 L418.5,1308.9"/>
<path class="d" stroke="#00B8E6"  d="M275.7,1354.6 L278.1,1360.2 L280.6,1365.7 L283.2,1371.2 L285.8,1376.6 L288.6,1382.1 L291.5,1387.4 L294.4,1392.7 L297.4,1398.0 L300.5,1403.2 L303.6,1408.4 L306.9,1413.6 L310.1,1418.7 L313.4,1423.8 L316.8,1428.9 L320.2,1433.9 L323.6,1438.9 L327.1,1443.9 L330.6,1448.9 L334.2,1453.8 L337.7,1458.7 L341.3,1463.6 L344.9,1468.5 L348.5,1473.4 L352.1,1478.3 L355.8,1483.2 L359.4,1488.0 L363.1,1492.9 L366.7,1497.8 L370.3,1502.6 L373.9,1507.5 L377.5,1512.4 L381.1,1517.3 L384.7,1522.2 L388.2,1527.2 L391.7,1532.1 L395.2,1537.1 L398.6,1542.1 L402.0,1547.2 L405.4,1552.2 L408.7,1557.3 L411.9,1562.5"/>
<path class="d" stroke="#00E69A"  d="M1905.7,1460.9 L1904.0,1455.2 L1902.2,1449.4 L1900.4,1443.7 L1898.6,1438.0 L1896.7,1432.3 L1894.8,1426.6 L1892.9,1420.9 L1890.9,1415.2 L1888.9,1409.6 L1886.9,1403.9 L1884.8,1398.3 L1882.7,1392.7 L1880.5,1387.1 L1878.4,1381.5 L1876.2,1375.9 L1873.9,1370.4 L1871.6,1364.8 L1869.3,1359.3 L1867.0,1353.8 L1864.6,1348.3 L1862.1,1342.8 L1859.7,1337.3 L1857.2,1331.8 L1854.6,1326.4 L1852.0,1321.0 L1849.4,1315.6 L1846.8,1310.2 L1844.1,1304.8 L1841.3,1299.5 L1838.6,1294.2 L1835.8,1288.9 L1832.9,1283.6 L1830.1,1278.3 L1827.1,1273.1 L1824.2,1267.9 L1821.2,1262.7 L1818.2,1257.5 L1815.1,1252.3 L1812.0,1247.2 L1808.8,1242.1 L1805.7,1237.0 L1802.5,1231.9 L1799.2,1226.9 L1795.9,1221.9 L1792.6,1216.9 L1789.2,1211.9 L1785.9,1206.9 L1782.4,1202.0 L1779.0,1197.1 L1775.5,1192.2 L1772.0,1187.4 L1768.4,1182.5 L1764.8,1177.7 L1761.2,1172.9 L1757.5,1168.2 L1753.8,1163.5 L1750.1,1158.7 L1746.4,1154.1 L1742.6,1149.4 L1738.8,1144.8 L1735.0,1140.1 L1731.1,1135.6 L1727.2,1131.0 L1723.3,1126.5 L1719.3,1122.0 L1715.3,1117.5 L1711.3,1113.0 L1707.2,1108.7 L1703.0,1104.3 L1698.9,1100.0 L1694.6,1095.7 L1690.4,1091.5 L1686.0,1087.4 L1681.6,1083.3 L1677.2,1079.3 L1672.7,1075.3 L1668.1,1071.4 L1663.4,1067.7 L1658.7,1064.0 L1653.9,1060.4 L1649.0,1056.9 L1644.1,1053.5 L1639.1,1050.2 L1633.9,1047.1 L1628.8,1044.1 L1623.5,1041.2 L1618.1,1038.5 L1612.7,1036.0 L1607.2,1033.6 L1601.6,1031.4 L1595.9,1029.5 L1590.2,1027.7 L1584.4,1026.1 L1578.5,1024.8 L1572.6,1023.7 L1566.7,1022.9 L1560.7,1022.3 L1554.7,1021.9 L1548.7,1021.8 L1542.7,1021.9 L1536.7,1022.3 L1530.8,1022.9 L1524.8,1023.7 L1518.9,1024.8 L1513.1,1026.1 L1507.3,1027.7 L1501.6,1029.5 L1495.9,1031.6 L1490.4,1033.9 L1485.0,1036.5 L1479.7,1039.3 L1474.5,1042.4 L1469.5,1045.7 L1464.7,1049.2 L1460.0,1053.0 L1455.5,1056.9 L1451.1,1061.0 L1446.8,1065.2 L1442.7,1069.6 L1438.8,1074.1 L1434.9,1078.7 L1431.2,1083.5 L1427.7,1088.3 L1424.2,1093.2 L1420.8,1098.1 L1417.6,1103.2 L1414.5,1108.3 L1411.4,1113.5 L1408.5,1118.7 L1405.7,1124.0 L1403.0,1129.4 L1400.4,1134.8 L1397.9,1140.3 L1395.6,1145.8 L1393.3,1151.4 L1391.2,1157.0 L1389.2,1162.6 L1387.3,1168.3 L1385.5,1174.0 L1383.9,1179.8 L1382.3,1185.6 L1380.9,1191.4 L1379.6,1197.3 L1378.3,1203.2 L1377.2,1209.1 L1376.3,1215.0 L1375.4,1220.9 L1374.6,1226.9 L1374.0,1232.8 L1373.4,1238.8 L1373.0,1244.8 L1372.7,1250.8 L1372.5,1256.8 L1372.3,1262.8 L1372.3,1268.8 L1372.4,1274.8 L1372.6,1280.8 L1372.9,1286.8 L1373.3,1292.7 L1373.7,1298.7 L1374.3,1304.7 L1375.0,1310.7 L1375.8,1316.6 L1376.6,1322.6 L1377.6,1328.5 L1378.6,1334.4 L1379.7,1340.3 L1381.0,1346.2 L1382.3,1352.0 L1383.6,1357.8 L1385.1,1363.7 L1386.7,1369.5 L1388.3,1375.2 L1390.0,1381.0 L1391.8,1386.7 L1393.7,1392.4 L1395.7,1398.1 L1397.7,1403.7 L1399.8,1409.3 L1402.0,1414.9 L1404.3,1420.5 L1406.6,1426.0 L1409.1,1431.5 L1411.6,1436.9 L1414.1,1442.4 L1416.8,1447.7 L1419.5,1453.1 L1422.3,1458.4 L1425.1,1463.7 L1428.0,1468.9 L1431.0,1474.1 L1434.1,1479.3 L1437.3,1484.4 L1440.5,1489.5 L1443.7,1494.5 L1447.1,1499.5 L1450.5,1504.4 L1453.9,1509.3 L1457.5,1514.2 L1461.1,1519.0 L1464.7,1523.7 L1468.4,1528.5 L1472.2,1533.1 L1476.0,1537.8 L1479.9,1542.3 L1483.8,1546.9 L1487.8,1551.3 L1491.9,1555.8 L1496.0,1560.2 L1500.1,1564.5 L1504.3,1568.8 L1508.6,1573.0 L1512.8,1577.2 L1517.2,1581.3 L1521.6,1585.4 L1526.0,1589.5 L1530.5,1593.5 L1535.0,1597.4 L1539.6,1601.3 L1544.2,1605.1 L1548.9,1608.9 L1553.5,1612.7 L1558.3,1616.4 L1563.0,1620.0 L1567.9,1623.6 L1572.7,1627.1 L1577.6,1630.6 L1582.5,1634.0 L1587.4,1637.4 L1592.4,1640.8 L1597.5,1644.1 L1602.5,1647.3 L1607.6,1650.5 L1612.7,1653.6 L1617.9,1656.7 L1623.0,1659.7 L1628.2,1662.7 L1633.5,1665.7 L1638.7,1668.5 L1644.0,1671.4 L1649.3,1674.1 L1654.7,1676.9 L1660.1,1679.6 L1665.5,1682.2 L1670.9,1684.8 L1676.3,1687.3 L1681.8,1689.7 L1687.3,1692.2 L1692.8,1694.5 L1698.3,1696.8 L1703.9,1699.1 L1709.5,1701.3 L1715.1,1703.5"/>
<path class="d" stroke="#00E69A"  d="M1850.0,1702.0 L1854.6,1698.0 L1859.1,1694.0 L1863.5,1689.9 L1867.9,1685.7 L1872.1,1681.5 L1876.3,1677.1 L1880.4,1672.6 L1884.3,1668.0 L1888.1,1663.3 L1891.7,1658.5 L1895.1,1653.5 L1898.2,1648.3 L1901.1,1643.0 L1903.7,1637.6 L1906.0,1632.0"/>
</g>
<text transform="translate(1597.7,453.6) rotate(-86.5)" font-size="49" text-anchor="middle" letter-spacing="-0.6" dy="17.5">520.0</text>
<text transform="translate(1221,637) rotate(85.4)" font-size="49" text-anchor="middle" letter-spacing="-0.6" dy="17.5">520.0</text>
<text transform="translate(331.2,1163) rotate(-89.3)" font-size="49" text-anchor="middle" letter-spacing="-0.6" dy="17.5">520.0</text>
<text transform="translate(1126.9,914.2) rotate(-9)" font-size="49" text-anchor="middle" letter-spacing="-0.6" dy="17.5">66.0</text>
<text transform="translate(861.3,1601.5) rotate(45)" font-size="49" text-anchor="middle" letter-spacing="-0.6" dy="17.5">57.0</text>
<g clip-path="url(#plot)">
<path class="c" stroke="#00E600" d="M761.0,70.8 L766.3,73.6 L771.6,76.5 L776.8,79.3 L782.1,82.2 L787.4,85.2 L792.6,88.1 L797.8,91.1 L803.0,94.1 L808.2,97.2 L813.3,100.3 L818.5,103.4 L823.6,106.5 L828.7,109.6 L833.8,112.8 L838.9,116.0 L844.0,119.2 L849.0,122.5 L854.1,125.8 L859.1,129.1 L864.1,132.4 L869.1,135.7 L874.1,139.1 L879.0,142.5 L884.0,145.9 L888.9,149.3 L893.8,152.7 L898.8,156.2 L903.7,159.7 L908.5,163.2 L913.4,166.7 L918.3,170.2 L923.1,173.8 L928.0,177.3 L932.8,180.9 L937.6,184.5 L942.4,188.1 L947.2,191.7 L952.0,195.4 L956.8,199.0 L961.5,202.7 L966.3,206.3 L971.0,210.0 L975.8,213.7 L980.5,217.4 L985.2,221.1 L989.9,224.8 L994.6,228.6 L999.3,232.3 L1004.0,236.1 L1008.7,239.8 L1013.4,243.6 L1018.1,247.3 L1022.8,251.1 L1027.4,254.9 L1032.1,258.7 L1036.7,262.5 L1041.4,266.3 L1046.0,270.1 L1050.6,274.0 L1055.2,277.8 L1059.8,281.7 L1064.4,285.6 L1069.0,289.5 L1073.6,293.4 L1078.1,297.3 L1082.7,301.3 L1087.2,305.2 L1091.7,309.2 L1096.2,313.2 L1100.6,317.2 L1105.1,321.2 L1109.5,325.3 L1113.9,329.4 L1118.3,333.4 L1122.7,337.6 L1127.1,341.7 L1131.4,345.9 L1135.7,350.0 L1140.0,354.3 L1144.3,358.5 L1148.5,362.7 L1152.7,367.0 L1156.9,371.3 L1161.1,375.7 L1165.2,380.0 L1169.3,384.4 L1173.4,388.8 L1177.4,393.3 L1181.4,397.7 L1185.4,402.2 L1189.4,406.8 L1193.3,411.3 L1197.2,415.9 L1201.0,420.5 L1204.8,425.2 L1208.6,429.9 L1212.3,434.6 L1216.0,439.3 L1219.7,444.1 L1223.3,448.9 L1226.8,453.7 L1230.4,458.6 L1233.8,463.5 L1237.3,468.4 L1240.7,473.4 L1244.0,478.4 L1247.3,483.4 L1250.5,488.5 L1253.7,493.6 L1256.8,498.7 L1259.8,503.9 L1262.8,509.1 L1265.7,514.4 L1268.5,519.7 L1271.3,525.0 L1273.9,530.4 L1276.5,535.8 L1279.0,541.3 L1281.4,546.8 L1283.6,552.4 L1285.8,558.0 L1287.9,563.6 L1289.8,569.3 L1291.6,575.0 L1293.3,580.8 L1294.9,586.6 L1296.3,592.4 L1297.7,598.3 L1298.9,604.2 L1299.9,610.1 L1300.9,616.0 L1301.7,622.0 L1302.4,627.9 L1303.0,633.9 L1303.4,639.9 L1303.8,645.9 L1304.0,651.9 L1304.1,657.9 L1304.0,663.9 L1303.8,669.9 L1303.6,675.9 L1303.1,681.9 L1302.6,687.9 L1302.0,693.9 L1301.2,699.8 L1300.4,705.8 L1299.4,711.7 L1298.4,717.6 L1297.2,723.5 L1296.0,729.4 L1294.7,735.3 L1293.3,741.1 L1291.8,747.0 L1290.3,752.8 L1288.7,758.6 L1287.1,764.3 L1285.4,770.1 L1283.6,775.8 L1281.8,781.6 L1279.9,787.3 L1278.0,793.0 L1276.1,798.7 L1274.1,804.3 L1272.1,810.0 L1270.0,815.6 L1268.0,821.3 L1265.9,826.9 L1263.8,832.5 L1261.6,838.2 L1259.5,843.8 L1257.4,849.4 L1255.2,855.0 L1253.0,860.6 L1250.9,866.2 L1248.7,871.8 L1246.5,877.4 L1244.4,883.0 L1242.2,888.6 L1240.1,894.2 L1237.9,899.8 L1235.8,905.5 L1233.7,911.1 L1231.6,916.7 L1229.5,922.3 L1227.4,928.0 L1225.3,933.6 L1223.3,939.3 L1221.2,944.9 L1219.2,950.6 L1217.2,956.3 L1215.3,961.9 L1213.3,967.6 L1211.4,973.3 L1209.5,979.0 L1207.7,984.7 L1205.8,990.4 L1204.0,996.2 L1202.2,1001.9 L1200.5,1007.7 L1198.8,1013.4 L1197.1,1019.2 L1195.5,1025.0 L1193.9,1030.8 L1192.3,1036.6 L1190.8,1042.4 L1189.3,1048.2 L1187.9,1054.0 L1186.5,1059.9 L1185.2,1065.7 L1183.9,1071.6 L1182.6,1077.5 L1181.4,1083.4 L1180.3,1089.3 L1179.2,1095.2 L1178.1,1101.1 L1177.2,1107.0 L1176.2,1112.9 L1175.3,1118.9 L1174.5,1124.8 L1173.7,1130.8 L1173.0,1136.8 L1172.4,1142.7 L1171.8,1148.7 L1171.2,1154.7 L1170.7,1160.7 L1170.3,1166.7 L1170.0,1172.7 L1169.7,1178.7 L1169.4,1184.7 L1169.2,1190.7 L1169.1,1196.7 L1169.1,1202.7 L1169.1,1208.7 L1169.2,1214.7 L1169.3,1220.7 L1169.5,1226.7 L1169.8,1232.7 L1170.2,1238.7 L1170.6,1244.7 L1171.1,1250.7 L1171.7,1256.7 L1172.3,1262.7 L1173.0,1268.6 L1173.8,1274.6 L1174.7,1280.5 L1175.7,1286.5 L1176.7,1292.4 L1177.8,1298.3 L1179.0,1304.2 L1180.3,1310.0 L1181.7,1315.9 L1183.1,1321.7 L1184.7,1327.5 L1186.3,1333.3 L1188.0,1339.1 L1189.8,1344.8 L1191.7,1350.5 L1193.6,1356.2 L1195.7,1361.8 L1197.8,1367.4 L1200.0,1373.0 L1202.3,1378.6 L1204.7,1384.1 L1207.2,1389.6 L1209.7,1395.0 L1212.3,1400.5 L1214.9,1405.8 L1217.6,1411.2 L1220.4,1416.5 L1223.3,1421.8 L1226.2,1427.1 L1229.2,1432.3 L1232.2,1437.5 L1235.3,1442.6 L1238.4,1447.8 L1241.6,1452.8 L1244.9,1457.9 L1248.2,1462.9 L1251.5,1467.9 L1254.9,1472.9 L1258.3,1477.8 L1261.8,1482.7 L1265.3,1487.6 L1268.9,1492.4 L1272.5,1497.2 L1276.1,1502.0 L1279.8,1506.8 L1283.5,1511.5 L1287.2,1516.2 L1291.0,1520.8 L1294.8,1525.5 L1298.7,1530.1 L1302.6,1534.7 L1306.5,1539.3 L1310.4,1543.8 L1314.3,1548.3 L1318.3,1552.8 L1322.3,1557.3 L1326.4,1561.8 L1330.4,1566.2 L1334.5,1570.6 L1338.6,1575.0 L1342.7,1579.4 L1346.9,1583.7 L1351.0,1588.0 L1355.2,1592.4 L1359.4,1596.6 L1363.7,1600.9 L1367.9,1605.2 L1372.2,1609.4 L1376.5,1613.6 L1380.8,1617.8 L1385.1,1621.9 L1389.5,1626.1 L1393.8,1630.2 L1398.2,1634.3 L1402.6,1638.4 L1407.0,1642.5 L1411.5,1646.5 L1415.9,1650.6 L1420.4,1654.6 L1424.9,1658.6 L1429.4,1662.5 L1433.9,1666.5 L1438.4,1670.4 L1443.0,1674.3 L1447.6,1678.3 L1452.2,1682.1 L1456.7,1686.0 L1461.4,1689.9 L1466.0,1693.7 L1470.6,1697.5 L1475.3,1701.3"/>
<path class="c" stroke="#00E600" d="M1905.2,76.5 L1901.7,81.4 L1898.1,86.2 L1894.5,91.1 L1891.0,95.9 L1887.4,100.7 L1883.8,105.6 L1880.2,110.4 L1876.7,115.2 L1873.1,120.1 L1869.5,124.9 L1865.9,129.7 L1862.3,134.6 L1858.7,139.4 L1855.2,144.2 L1851.6,149.1 L1848.0,153.9 L1844.4,158.7 L1840.9,163.6 L1837.3,168.4 L1833.7,173.3 L1830.2,178.1 L1826.6,183.0 L1823.1,187.8 L1819.5,192.7 L1816.0,197.5 L1812.4,202.4 L1808.9,207.3 L1805.4,212.2 L1801.9,217.1 L1798.4,222.0 L1794.9,226.9 L1791.4,231.8 L1788.0,236.7 L1784.5,241.6 L1781.1,246.5 L1777.6,251.5 L1774.2,256.4 L1770.8,261.4 L1767.4,266.3 L1764.0,271.3 L1760.7,276.3 L1757.3,281.3 L1754.0,286.3 L1750.7,291.3 L1747.4,296.3 L1744.1,301.4 L1740.8,306.4 L1737.6,311.5 L1734.3,316.6 L1731.1,321.7 L1727.9,326.8 L1724.7,331.9 L1721.6,337.0 L1718.5,342.1 L1715.4,347.3 L1712.3,352.4 L1709.2,357.6 L1706.2,362.8 L1703.2,368.0 L1700.2,373.2 L1697.2,378.5 L1694.3,383.7 L1691.3,389.0 L1688.5,394.2 L1685.6,399.5 L1682.8,404.8 L1680.0,410.2 L1677.2,415.5 L1674.5,420.9 L1671.8,426.3 L1669.2,431.7 L1666.6,437.1 L1664.1,442.6 L1661.6,448.0 L1659.1,453.5 L1656.8,459.1 L1654.5,464.6 L1652.2,470.2 L1650.1,475.8 L1648.0,481.5 L1646.0,487.1 L1644.1,492.8 L1642.2,498.6 L1640.5,504.3 L1638.8,510.1 L1637.2,515.9 L1635.8,521.7 L1634.4,527.6 L1633.2,533.5 L1632.1,539.4 L1631.1,545.3 L1630.2,551.3 L1629.4,557.2 L1628.7,563.2 L1628.2,569.2 L1627.7,575.2 L1627.4,581.2 L1627.2,587.2 L1627.1,593.2 L1627.1,599.3 L1627.2,605.3 L1627.4,611.3 L1627.7,617.3 L1628.2,623.3 L1628.7,629.3 L1629.4,635.2 L1630.1,641.2 L1631.0,647.2 L1632.0,653.1 L1633.0,659.0 L1634.2,664.9 L1635.5,670.8 L1636.9,676.6 L1638.4,682.5 L1639.9,688.3 L1641.6,694.1 L1643.3,699.8 L1645.2,705.6 L1647.1,711.3 L1649.1,716.9 L1651.1,722.6 L1653.3,728.2 L1655.5,733.8 L1657.7,739.4 L1660.1,744.9 L1662.5,750.4 L1664.9,755.9 L1667.4,761.4 L1670.0,766.8 L1672.6,772.3 L1675.2,777.7 L1677.9,783.0 L1680.7,788.4 L1683.5,793.7 L1686.3,799.0 L1689.1,804.3 L1692.0,809.6 L1694.9,814.9 L1697.9,820.1 L1700.9,825.3 L1703.9,830.6 L1706.9,835.8 L1709.9,840.9 L1713.0,846.1 L1716.1,851.3 L1719.2,856.4 L1722.3,861.6 L1725.4,866.7 L1728.5,871.9 L1731.7,877.0 L1734.8,882.1 L1738.0,887.2 L1741.1,892.4 L1744.3,897.5 L1747.4,902.6 L1750.6,907.7 L1753.7,912.9 L1756.9,918.0 L1760.0,923.1 L1763.1,928.3 L1766.3,933.4 L1769.4,938.6 L1772.4,943.7 L1775.5,948.9 L1778.6,954.1 L1781.6,959.2 L1784.7,964.4 L1787.7,969.6 L1790.7,974.8 L1793.8,980.0 L1796.8,985.2 L1799.8,990.5 L1802.7,995.7 L1805.7,1000.9 L1808.7,1006.1 L1811.6,1011.4 L1814.6,1016.6 L1817.5,1021.9 L1820.5,1027.1 L1823.4,1032.4 L1826.3,1037.6 L1829.2,1042.9 L1832.1,1048.2 L1835.0,1053.5 L1837.9,1058.7 L1840.8,1064.0 L1843.6,1069.3 L1846.5,1074.6 L1849.4,1079.9 L1852.2,1085.2 L1855.1,1090.5 L1857.9,1095.7 L1860.8,1101.0 L1863.6,1106.3 L1866.5,1111.6 L1869.3,1117.0 L1872.1,1122.3 L1875.0,1127.6 L1877.8,1132.9 L1880.6,1138.2 L1883.5,1143.5 L1886.3,1148.8 L1889.1,1154.1 L1891.9,1159.4 L1894.7,1164.7 L1897.6,1170.1 L1900.4,1175.4 L1903.2,1180.7 L1906.0,1186.0"/>
<path class="c" stroke="#00E600" d="M270.4,821.2 L272.4,826.8 L274.4,832.5 L276.5,838.2 L278.5,843.8 L280.5,849.5 L282.5,855.1 L284.5,860.8 L286.4,866.5 L288.4,872.2 L290.4,877.9 L292.3,883.5 L294.2,889.2 L296.2,894.9 L298.1,900.6 L300.0,906.3 L301.8,912.0 L303.7,917.8 L305.5,923.5 L307.4,929.2 L309.2,934.9 L311.0,940.7 L312.7,946.4 L314.5,952.2 L316.2,957.9 L317.9,963.7 L319.6,969.5 L321.3,975.2 L323.0,981.0 L324.6,986.8 L326.2,992.6 L327.8,998.4 L329.4,1004.2 L330.9,1010.0 L332.4,1015.8 L333.9,1021.6 L335.4,1027.5 L336.8,1033.3 L338.2,1039.1 L339.6,1045.0 L340.9,1050.8 L342.3,1056.7 L343.6,1062.6 L344.8,1068.5 L346.0,1074.3 L347.2,1080.2 L348.4,1086.1 L349.5,1092.0 L350.6,1097.9 L351.7,1103.9 L352.7,1109.8 L353.7,1115.7 L354.7,1121.6 L355.6,1127.6 L356.5,1133.5 L357.3,1139.5 L358.1,1145.4 L358.9,1151.4 L359.6,1157.4 L360.2,1163.3 L360.9,1169.3 L361.5,1175.3 L362.0,1181.3 L362.5,1187.3 L363.0,1193.3 L363.4,1199.3 L363.7,1205.3 L364.0,1211.3 L364.3,1217.3 L364.5,1223.3 L364.7,1229.3 L364.8,1235.3 L364.9,1241.3 L364.9,1247.3 L364.8,1253.3 L364.7,1259.3 L364.6,1265.3 L364.4,1271.4 L364.1,1277.4 L363.8,1283.4 L363.4,1289.4 L363.0,1295.4 L362.5,1301.3 L361.9,1307.3 L361.3,1313.3 L360.7,1319.3 L360.0,1325.3 L359.2,1331.2 L358.4,1337.2 L357.5,1343.1 L356.6,1349.1 L355.6,1355.0 L354.6,1360.9 L353.5,1366.8 L352.4,1372.7 L351.2,1378.6 L349.9,1384.5 L348.6,1390.4 L347.3,1396.2 L345.9,1402.1 L344.5,1407.9 L343.0,1413.7 L341.5,1419.6 L339.9,1425.4 L338.3,1431.1 L336.6,1436.9 L334.9,1442.7 L333.1,1448.4 L331.3,1454.2 L329.5,1459.9 L327.6,1465.6 L325.6,1471.3 L323.6,1476.9 L321.6,1482.6 L319.5,1488.2 L317.4,1493.9 L315.3,1499.5 L313.1,1505.1 L310.8,1510.6 L308.5,1516.2 L306.2,1521.7 L303.8,1527.3 L301.4,1532.8 L299.0,1538.3 L296.5,1543.7 L294.0,1549.2 L291.4,1554.6 L288.8,1560.0 L286.1,1565.4 L283.5,1570.8 L280.7,1576.2 L278.0,1581.5 L275.2,1586.8 L272.3,1592.1"/>
<path class="c" stroke="#00E600" d="M273.6,850.5 L277.4,855.2 L281.2,859.9 L284.9,864.6 L288.7,869.3 L292.5,874.1 L296.2,878.8 L300.0,883.5 L303.8,888.2 L307.5,892.9 L311.3,897.6 L315.0,902.3 L318.8,907.0 L322.6,911.7 L326.3,916.4 L330.1,921.2 L333.9,925.9 L337.6,930.6 L341.4,935.3 L345.1,940.0 L348.9,944.7 L352.7,949.4 L356.4,954.1 L360.2,958.9 L364.0,963.6 L367.7,968.3 L371.5,973.0 L375.2,977.7 L379.0,982.4 L382.8,987.1 L386.5,991.8 L390.3,996.5 L394.1,1001.2 L397.8,1006.0 L401.6,1010.7 L405.4,1015.4 L409.1,1020.1 L412.9,1024.8 L416.7,1029.5 L420.4,1034.2 L424.2,1038.9 L428.0,1043.6 L431.7,1048.3 L435.5,1053.0 L439.3,1057.7 L443.1,1062.4 L446.8,1067.1 L450.6,1071.8 L454.4,1076.5 L458.2,1081.2 L461.9,1085.9 L465.7,1090.6 L469.5,1095.3 L473.3,1100.0 L477.1,1104.7 L480.9,1109.4 L484.6,1114.1 L488.4,1118.8 L492.2,1123.5 L496.0,1128.2 L499.8,1132.9 L503.6,1137.5 L507.4,1142.2 L511.2,1146.9 L515.0,1151.6 L518.8,1156.3 L522.6,1160.9 L526.4,1165.6 L530.2,1170.3 L534.0,1175.0 L537.8,1179.6 L541.6,1184.3 L545.5,1189.0 L549.3,1193.7 L553.1,1198.3 L556.9,1203.0 L560.7,1207.6 L564.6,1212.3 L568.4,1217.0 L572.2,1221.6 L576.0,1226.3 L579.9,1230.9 L583.7,1235.6 L587.6,1240.2 L591.4,1244.9 L595.2,1249.5 L599.1,1254.2 L602.9,1258.8 L606.8,1263.4 L610.6,1268.1 L614.5,1272.7 L618.4,1277.4 L622.2,1282.0 L626.1,1286.6 L630.0,1291.2 L633.8,1295.9 L637.7,1300.5 L641.6,1305.1 L645.5,1309.7 L649.3,1314.3 L653.2,1318.9 L657.1,1323.5 L661.0,1328.1 L664.9,1332.7 L668.8,1337.3 L672.7,1341.9 L676.6,1346.5 L680.5,1351.1 L684.4,1355.7 L688.3,1360.3 L692.3,1364.9 L696.2,1369.5 L700.1,1374.0 L704.0,1378.6 L708.0,1383.2 L711.9,1387.7 L715.9,1392.3 L719.8,1396.9 L723.7,1401.4 L727.7,1406.0 L731.6,1410.5 L735.6,1415.1 L739.6,1419.6 L743.5,1424.2 L747.5,1428.7 L751.5,1433.2 L755.5,1437.8 L759.4,1442.3 L763.4,1446.8 L767.4,1451.3 L771.4,1455.9 L775.4,1460.4 L779.4,1464.9 L783.4,1469.4 L787.4,1473.9 L791.5,1478.4 L795.5,1482.9 L799.5,1487.4 L803.5,1491.8 L807.6,1496.3 L811.6,1500.8 L815.6,1505.3 L819.7,1509.8 L823.7,1514.2 L827.8,1518.7 L831.9,1523.1 L835.9,1527.6 L840.0,1532.0 L844.1,1536.5 L848.2,1540.9 L852.2,1545.4 L856.3,1549.8 L860.4,1554.2 L864.5,1558.6 L868.6,1563.0 L872.7,1567.5 L876.8,1571.9 L881.0,1576.3 L885.1,1580.7 L889.2,1585.1 L893.4,1589.4 L897.5,1593.8 L901.6,1598.2 L905.8,1602.6 L910.0,1606.9 L914.1,1611.3 L918.3,1615.7 L922.5,1620.0 L926.6,1624.4 L930.8,1628.7 L935.0,1633.1 L939.2,1637.4 L943.4,1641.7 L947.6,1646.0 L951.8,1650.3 L956.0,1654.7 L960.2,1659.0 L964.5,1663.3 L968.7,1667.6 L972.9,1671.8 L977.2,1676.1 L981.4,1680.4 L985.7,1684.7 L990.0,1688.9 L994.2,1693.2 L998.5,1697.5 L1002.8,1701.7"/>
</g>
<path d="M245.90,70.44 L1932.06,70.44 M245.90,1701.4 L1932.06,1701.4 M245.90,614.09 L300.10,614.09 M1877.86,614.09 L1932.06,614.09 M245.90,1157.75 L300.10,1157.75 M1877.86,1157.75 L1932.06,1157.75" stroke="#000" stroke-width="6.9" fill="none"/>
<path d="M273.0,42.89 L273.0,1728.95 M1904.96,42.89 L1904.96,1728.95 M599.39,42.89 L599.39,97.99 M599.39,1673.85 L599.39,1728.95 M925.78,42.89 L925.78,97.99 M925.78,1673.85 L925.78,1728.95 M1252.18,42.89 L1252.18,97.99 M1252.18,1673.85 L1252.18,1728.95 M1578.57,42.89 L1578.57,97.99 M1578.57,1673.85 L1578.57,1728.95" stroke="#000" stroke-width="5.95" fill="none"/>
<g clip-path="url(#plot2)"><path class="c" stroke="#F0C800" stroke-linecap="round" d="M736.7,1701.3 L737.8,1695.4 L739.0,1689.5 L740.1,1683.6 L741.2,1677.7 L742.4,1671.8 L743.5,1665.9 L744.7,1660.0 L745.9,1654.2 L747.0,1648.3 L748.2,1642.4 L749.4,1636.5 L750.6,1630.6 L751.8,1624.7 L753.0,1618.8 L754.2,1613.0 L755.4,1607.1 L756.7,1601.2 L757.9,1595.3 L759.1,1589.5 L760.4,1583.6 L761.6,1577.7 L762.9,1571.8 L764.2,1566.0 L765.5,1560.1 L766.8,1554.2 L768.1,1548.4 L769.4,1542.5 L770.7,1536.7 L772.0,1530.8 L773.3,1524.9 L774.7,1519.1 L776.0,1513.2 L777.4,1507.4 L778.8,1501.5 L780.2,1495.7 L781.5,1489.9 L782.9,1484.0 L784.4,1478.2 L785.8,1472.4 L787.2,1466.5 L788.6,1460.7 L790.1,1454.9 L791.6,1449.0 L793.0,1443.2 L794.5,1437.4 L796.0,1431.6 L797.5,1425.8 L799.0,1420.0 L800.6,1414.2 L802.1,1408.3 L803.7,1402.5 L805.2,1396.8 L806.8,1391.0 L808.4,1385.2 L810.0,1379.4 L811.6,1373.6 L813.2,1367.8 L814.9,1362.0 L816.5,1356.3 L818.2,1350.5 L819.9,1344.7 L821.6,1339.0 L823.3,1333.2 L825.0,1327.5 L826.7,1321.7 L828.4,1316.0 L830.2,1310.2 L832.0,1304.5 L833.8,1298.7 L835.6,1293.0 L837.4,1287.3 L839.2,1281.6 L841.1,1275.9 L842.9,1270.2 L844.8,1264.5 L846.7,1258.8 L848.6,1253.1 L850.6,1247.4 L852.5,1241.7 L854.5,1236.0 L856.6,1230.4 L858.6,1224.7 L860.7,1219.1 L862.8,1213.5 L864.9,1207.9 L867.1,1202.3 L869.2,1196.7 L871.5,1191.1 L873.7,1185.5 L876.0,1180.0 L878.3,1174.4 L880.7,1168.9 L883.1,1163.4 L885.5,1157.9 L888.0,1152.4 L890.5,1147.0 L893.0,1141.5 L895.6,1136.1 L898.2,1130.7 L900.9,1125.3 L903.6,1120.0 L906.4,1114.7 L909.2,1109.3 L912.0,1104.1 L914.9,1098.8 L917.8,1093.5 L920.8,1088.3 L923.8,1083.1 L926.9,1078.0 L930.0,1072.9 L933.2,1067.7 L936.4,1062.7 L939.7,1057.6 L943.0,1052.6 L946.4,1047.7 L949.8,1042.8 L953.3,1037.9 L956.9,1033.1 L960.5,1028.3 L964.2,1023.6 L968.0,1018.9 L971.9,1014.3 L975.8,1009.8 L979.9,1005.3 L984.0,1000.9 L988.2,996.6 L992.4,992.4 L996.8,988.3 L1001.3,984.3 L1005.9,980.4 L1010.5,976.6 L1015.3,973.0 L1020.1,969.4 L1025.1,966.0 L1030.1,962.8 L1035.3,959.7 L1040.5,956.8 L1045.9,954.0 L1051.3,951.5 L1056.8,949.1 L1062.4,946.8 L1068.0,944.8 L1073.7,942.9 L1079.5,941.3 L1085.3,939.8 L1091.2,938.4 L1097.1,937.3 L1103.0,936.3 L1109.0,935.5 L1114.9,934.9 L1120.9,934.5 L1126.9,934.3 L1132.9,934.2 L1138.9,934.3 L1144.9,934.6 L1150.9,935.1 L1156.9,935.8 L1162.8,936.6 L1168.7,937.6 L1174.6,938.8 L1180.5,940.2 L1186.3,941.7 L1192.0,943.4 L1197.8,945.2 L1203.4,947.2 L1209.1,949.3 L1214.7,951.5 L1220.2,953.8 L1225.7,956.3 L1231.1,958.9 L1236.5,961.5 L1241.8,964.3 L1247.1,967.2 L1252.3,970.2 L1257.4,973.2 L1262.6,976.4 L1267.6,979.6 L1272.6,982.9 L1277.6,986.3 L1282.5,989.8 L1287.3,993.3 L1292.1,996.9 L1296.9,1000.6 L1301.6,1004.3 L1306.3,1008.1 L1310.9,1011.9 L1315.5,1015.8 L1320.1,1019.7 L1324.6,1023.6 L1329.0,1027.6 L1333.5,1031.7 L1337.9,1035.7 L1342.3,1039.9 L1346.6,1044.0 L1351.0,1048.1 L1355.3,1052.3 L1359.6,1056.5 L1363.9,1060.7 L1368.1,1065.0 L1372.3,1069.2 L1376.6,1073.5 L1380.8,1077.8 L1384.9,1082.1 L1389.1,1086.5 L1393.2,1090.8 L1397.3,1095.2 L1401.4,1099.6 L1405.5,1104.0 L1409.6,1108.4 L1413.6,1112.9 L1417.6,1117.3 L1421.6,1121.8 L1425.6,1126.3 L1429.6,1130.8 L1433.5,1135.3 L1437.4,1139.9 L1441.3,1144.4 L1445.2,1149.0 L1449.1,1153.6 L1453.0,1158.2 L1456.8,1162.8 L1460.6,1167.5 L1464.4,1172.1 L1468.2,1176.8 L1472.0,1181.4 L1475.7,1186.1 L1479.5,1190.8 L1483.2,1195.5 L1486.9,1200.3 L1490.6,1205.0 L1494.2,1209.8 L1497.9,1214.5 L1501.5,1219.3 L1505.2,1224.1 L1508.8,1228.9 L1512.4,1233.7 L1515.9,1238.5 L1519.5,1243.4 L1523.0,1248.2 L1526.6,1253.1 L1530.1,1257.9 L1533.6,1262.8 L1537.1,1267.7 L1540.6,1272.6 L1544.0,1277.5 L1547.5,1282.4 L1550.9,1287.3 L1554.4,1292.2 L1557.8,1297.2 L1561.2,1302.1 L1564.6,1307.1 L1568.0,1312.1 L1571.3,1317.0 L1574.7,1322.0 L1578.0,1327.0 L1581.4,1332.0 L1584.7,1337.0 L1588.0,1342.0 L1591.3,1347.0 L1594.6,1352.0 L1597.9,1357.1 L1601.1,1362.1 L1604.4,1367.1 L1607.7,1372.2 L1610.9,1377.2 L1614.1,1382.3 L1617.4,1387.4 L1620.6,1392.4 L1623.8,1397.5 L1627.0,1402.6 L1630.2,1407.7 L1633.4,1412.8 L1636.6,1417.9 L1639.7,1423.0 L1642.9,1428.1 L1646.0,1433.2 L1649.2,1438.3 L1652.3,1443.4 L1655.5,1448.5 L1658.6,1453.6 L1661.7,1458.8 L1664.9,1463.9 L1668.0,1469.0 L1671.1,1474.2 L1674.2,1479.3 L1677.3,1484.4 L1680.4,1489.6 L1683.5,1494.7 L1686.6,1499.9 L1689.7,1505.0 L1692.7,1510.2 L1695.8,1515.3 L1698.9,1520.5 L1702.0,1525.7 L1705.0,1530.8 L1708.1,1536.0 L1711.2,1541.1 L1714.2,1546.3 L1717.3,1551.5 L1720.4,1556.6 L1723.4,1561.8 L1726.5,1567.0 L1729.5,1572.1 L1732.6,1577.3 L1735.7,1582.5 L1738.7,1587.6 L1741.8,1592.8 L1744.8,1598.0 L1747.9,1603.1 L1751.0,1608.3 L1754.0,1613.5 L1757.1,1618.6 L1760.1,1623.8 L1763.2,1629.0 L1766.3,1634.1 L1769.3,1639.3 L1772.4,1644.5 L1775.5,1649.6 L1778.6,1654.8 L1781.6,1659.9 L1784.7,1665.1 L1787.8,1670.2 L1790.9,1675.4 L1794.0,1680.5 L1797.1,1685.7 L1800.2,1690.8 L1803.3,1696.0 L1806.4,1701.1"/></g>
<path d="M449.2,70.44 L453.8,70.44" stroke="#00E672" stroke-width="6.5" stroke-linecap="round" fill="none"/>
<path d="M469.2,70.44 L473.8,70.44" stroke="#00E672" stroke-width="6.5" stroke-linecap="round" fill="none"/>
<path d="M1455.2,70.44 L1459.8,70.44" stroke="#00E672" stroke-width="6.5" stroke-linecap="round" fill="none"/>
<path d="M1674.2,70.44 L1678.8,70.44" stroke="#0090E0" stroke-width="6.5" stroke-linecap="round" fill="none"/>
<path d="M1694.3,70.44 L1698.8999999999999,70.44" stroke="#0090E0" stroke-width="6.5" stroke-linecap="round" fill="none"/>
<path d="M358.0,1701.4 L362.6,1701.4" stroke="#00E672" stroke-width="6.5" stroke-linecap="round" fill="none"/>
<path d="M378.3,1701.4 L382.90000000000003,1701.4" stroke="#00E672" stroke-width="6.5" stroke-linecap="round" fill="none"/>
<path d="M398.3,1701.4 L402.90000000000003,1701.4" stroke="#00E672" stroke-width="6.5" stroke-linecap="round" fill="none"/>
<text x="776.00" y="945" font-size="68.2" letter-spacing="-3.627" >Yieldd,%</text>
<text x="411.00" y="1253.2" font-size="68.2" letter-spacing="-6.156" >DPPHc,AA%</text>
<text x="1201.00" y="1304" font-size="68.5" letter-spacing="-4.568" >TPPb,mg</text>
<text x="1472.90" y="1304" font-size="68.5" letter-spacing="-7.198" >GAE/L</text>
<text x="1266.20" y="956" font-size="75.3" letter-spacing="0.000" >C</text>
<text x="707.00" y="1520.9" font-size="75.3" letter-spacing="0.000" >B</text>
<text x="93.80" y="96.7" font-size="75.3" letter-spacing="-6.777" >210</text>
<rect x="133.34" y="90.38" width="14.50" height="7.02" fill="#fff" />
<rect x="154.49" y="90.38" width="13.91" height="7.02" fill="#fff" />
<text x="96.30" y="640.2" font-size="75.3" letter-spacing="-8.027" >150</text>
<rect x="100.74" y="633.88" width="14.50" height="7.02" fill="#fff" />
<rect x="121.89" y="633.88" width="13.91" height="7.02" fill="#fff" />
<text x="129.90" y="1183.5" font-size="75.3" letter-spacing="-7.677" >90</text>
<text x="131.40" y="1727.3" font-size="75.3" letter-spacing="-8.977" >30</text>
<text x="193.70" y="1840" font-size="75.3" letter-spacing="-5.637" >0.020</text>
<text x="520.30" y="1840" font-size="75.3" letter-spacing="-5.962" >0.052</text>
<text x="846.00" y="1840" font-size="75.3" letter-spacing="-5.862" >0.084</text>
<text x="1173.40" y="1840" font-size="75.3" letter-spacing="-6.037" >0.116</text>
<rect x="1228.56" y="1833.68" width="14.50" height="7.02" fill="#fff" />
<rect x="1249.71" y="1833.68" width="13.91" height="7.02" fill="#fff" />
<rect x="1264.41" y="1833.68" width="14.50" height="7.02" fill="#fff" />
<rect x="1285.56" y="1833.68" width="13.91" height="7.02" fill="#fff" />
<text x="1499.20" y="1840" font-size="75.3" letter-spacing="-5.787" >0.148</text>
<rect x="1554.86" y="1833.68" width="14.50" height="7.02" fill="#fff" />
<rect x="1576.01" y="1833.68" width="13.91" height="7.02" fill="#fff" />
<text x="1826.00" y="1840" font-size="75.3" letter-spacing="-5.637" clip-path="url(#page)">0.180</text>
<rect x="1881.96" y="1833.68" width="14.50" height="7.02" fill="#fff" clip-path="url(#page)"/>
<rect x="1903.11" y="1833.68" width="13.91" height="7.02" fill="#fff" clip-path="url(#page)"/>
<text x="623.00" y="1925.9" font-size="104" letter-spacing="-5.168" >Enzyme</text>
<text x="1000.80" y="1925.9" font-size="104" letter-spacing="-2.555" >dose,</text>
<text x="1250.70" y="1925.9" font-size="104" letter-spacing="-3.750" >%E/Sa</text>
<text x="273.00" y="1783.6" font-size="92" letter-spacing="0.000" >A</text>
<text x="951.90" y="1780.9" font-size="75.3" letter-spacing="0.000" >A</text>
<text x="1428.10" y="1784" font-size="75.3" letter-spacing="0.000" >D</text>
<text transform="translate(93.1,1083) rotate(-90)" x="-2.00" y="0" font-size="98" letter-spacing="-1.187" >Time,min</text>
</svg></body></html>
